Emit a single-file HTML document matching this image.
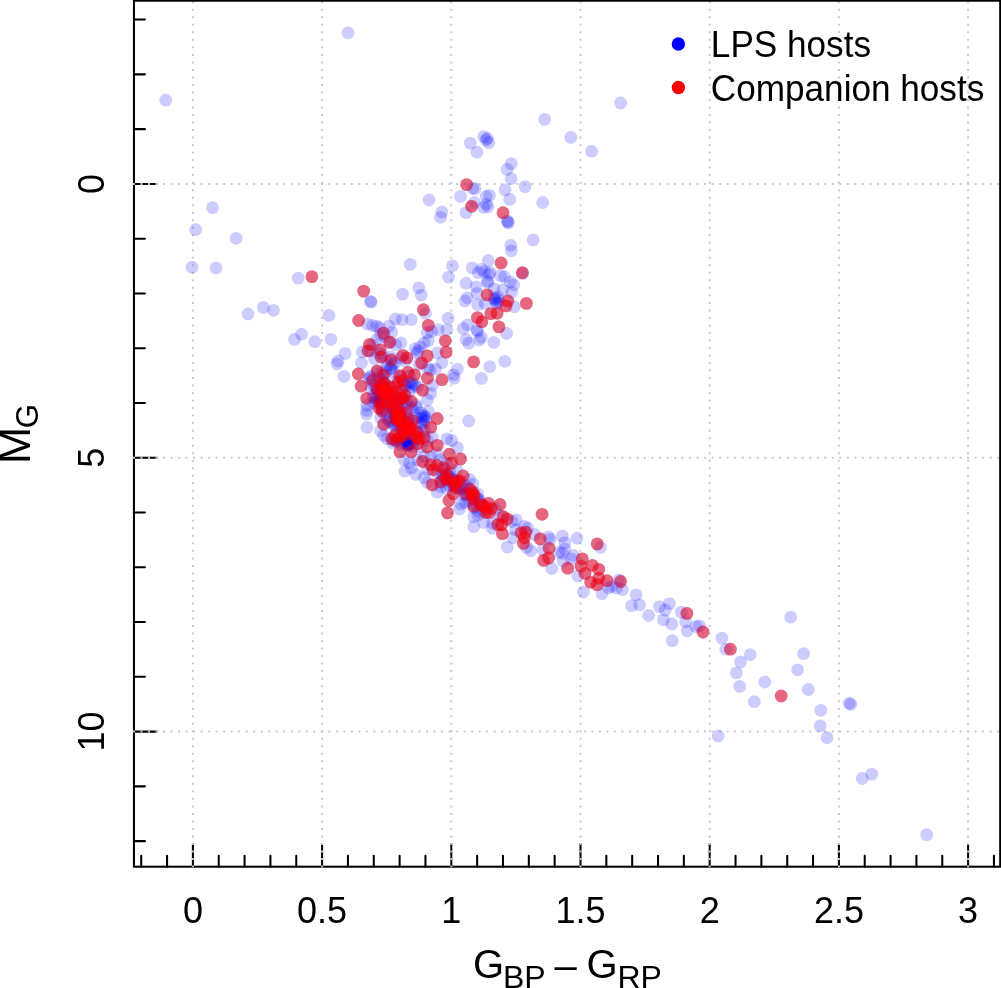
<!DOCTYPE html>
<html><head><meta charset="utf-8"><title>CMD</title>
<style>html,body{margin:0;padding:0;background:#fff;overflow:hidden}svg{display:block}</style>
</head><body>
<svg width="1001" height="988" viewBox="0 0 1001 988" font-family="'Liberation Sans', Arial, sans-serif">
<rect width="1001" height="988" fill="#fff"/>
<g stroke="#cacaca" stroke-width="2" fill="none">
<path stroke-dasharray="2 5.515" d="M192.90 867.5V0.7M322.10 867.5V0.7M451.30 867.5V0.7M580.50 867.5V0.7M709.70 867.5V0.7M838.90 867.5V0.7M968.10 867.5V0.7"/>
<path stroke-dasharray="2 5.515" d="M132.95 183.90H1000.2M132.95 457.75H1000.2M132.95 731.60H1000.2"/>
</g>
<g fill="#0000ff" fill-opacity="0.2">
<circle cx="790.7" cy="617.2" r="6.4"/>
<circle cx="721.9" cy="638.1" r="6.4"/>
<circle cx="725.9" cy="649.2" r="6.4"/>
<circle cx="750.2" cy="654.7" r="6.4"/>
<circle cx="740.5" cy="661.9" r="6.4"/>
<circle cx="736.4" cy="672.9" r="6.4"/>
<circle cx="739.7" cy="686.4" r="6.4"/>
<circle cx="764.8" cy="682.0" r="6.4"/>
<circle cx="754.3" cy="701.6" r="6.4"/>
<circle cx="803.6" cy="653.6" r="6.4"/>
<circle cx="797.6" cy="669.8" r="6.4"/>
<circle cx="808.3" cy="689.5" r="6.4"/>
<circle cx="820.9" cy="710.3" r="6.4"/>
<circle cx="820.2" cy="725.9" r="6.4"/>
<circle cx="827.1" cy="737.7" r="6.4"/>
<circle cx="718.2" cy="736.0" r="6.4"/>
<circle cx="849.2" cy="703.2" r="6.4"/>
<circle cx="850.8" cy="704.3" r="6.4"/>
<circle cx="862.3" cy="778.5" r="6.4"/>
<circle cx="871.7" cy="774.1" r="6.4"/>
<circle cx="165.8" cy="100.2" r="6.4"/>
<circle cx="348.0" cy="32.8" r="6.4"/>
<circle cx="470.2" cy="143.1" r="6.4"/>
<circle cx="476.9" cy="152.2" r="6.4"/>
<circle cx="483.8" cy="136.6" r="6.4"/>
<circle cx="487.2" cy="138.3" r="6.4"/>
<circle cx="486.2" cy="140.1" r="6.4"/>
<circle cx="488.9" cy="142.7" r="6.4"/>
<circle cx="511.3" cy="163.6" r="6.4"/>
<circle cx="507.1" cy="169.4" r="6.4"/>
<circle cx="511.1" cy="178.7" r="6.4"/>
<circle cx="505.1" cy="189.9" r="6.4"/>
<circle cx="525.1" cy="186.6" r="6.4"/>
<circle cx="472.7" cy="188.3" r="6.4"/>
<circle cx="475.1" cy="188.7" r="6.4"/>
<circle cx="460.5" cy="196.4" r="6.4"/>
<circle cx="429.1" cy="200.0" r="6.4"/>
<circle cx="486.2" cy="196.4" r="6.4"/>
<circle cx="489.5" cy="195.3" r="6.4"/>
<circle cx="509.7" cy="199.4" r="6.4"/>
<circle cx="544.7" cy="119.4" r="6.4"/>
<circle cx="570.8" cy="137.4" r="6.4"/>
<circle cx="591.5" cy="151.2" r="6.4"/>
<circle cx="620.6" cy="103.0" r="6.4"/>
<circle cx="212.5" cy="207.7" r="6.4"/>
<circle cx="195.7" cy="229.6" r="6.4"/>
<circle cx="236.2" cy="238.3" r="6.4"/>
<circle cx="192.1" cy="267.2" r="6.4"/>
<circle cx="216.0" cy="268.0" r="6.4"/>
<circle cx="298.2" cy="278.1" r="6.4"/>
<circle cx="248.0" cy="314.0" r="6.4"/>
<circle cx="263.4" cy="307.5" r="6.4"/>
<circle cx="273.5" cy="310.3" r="6.4"/>
<circle cx="328.9" cy="315.4" r="6.4"/>
<circle cx="301.6" cy="334.2" r="6.4"/>
<circle cx="294.5" cy="339.5" r="6.4"/>
<circle cx="314.8" cy="341.7" r="6.4"/>
<circle cx="331.0" cy="339.3" r="6.4"/>
<circle cx="441.9" cy="212.0" r="6.4"/>
<circle cx="440.5" cy="217.3" r="6.4"/>
<circle cx="466.0" cy="212.7" r="6.4"/>
<circle cx="474.4" cy="202.5" r="6.4"/>
<circle cx="486.4" cy="204.2" r="6.4"/>
<circle cx="483.6" cy="207.3" r="6.4"/>
<circle cx="487.9" cy="206.7" r="6.4"/>
<circle cx="542.7" cy="202.5" r="6.4"/>
<circle cx="507.3" cy="220.9" r="6.4"/>
<circle cx="508.4" cy="222.9" r="6.4"/>
<circle cx="507.7" cy="221.9" r="6.4"/>
<circle cx="533.2" cy="239.9" r="6.4"/>
<circle cx="510.8" cy="245.3" r="6.4"/>
<circle cx="410.2" cy="264.4" r="6.4"/>
<circle cx="452.4" cy="265.8" r="6.4"/>
<circle cx="448.6" cy="277.1" r="6.4"/>
<circle cx="418.7" cy="287.8" r="6.4"/>
<circle cx="421.3" cy="295.1" r="6.4"/>
<circle cx="402.6" cy="294.1" r="6.4"/>
<circle cx="448.2" cy="318.2" r="6.4"/>
<circle cx="411.3" cy="319.7" r="6.4"/>
<circle cx="402.1" cy="319.7" r="6.4"/>
<circle cx="425.5" cy="313.3" r="6.4"/>
<circle cx="438.3" cy="329.6" r="6.4"/>
<circle cx="446.8" cy="329.6" r="6.4"/>
<circle cx="488.3" cy="260.5" r="6.4"/>
<circle cx="472.1" cy="267.8" r="6.4"/>
<circle cx="478.2" cy="272.7" r="6.4"/>
<circle cx="481.5" cy="269.4" r="6.4"/>
<circle cx="484.3" cy="271.5" r="6.4"/>
<circle cx="490.0" cy="272.3" r="6.4"/>
<circle cx="489.1" cy="274.3" r="6.4"/>
<circle cx="487.4" cy="281.2" r="6.4"/>
<circle cx="487.9" cy="282.4" r="6.4"/>
<circle cx="466.1" cy="283.2" r="6.4"/>
<circle cx="476.2" cy="286.8" r="6.4"/>
<circle cx="477.0" cy="293.3" r="6.4"/>
<circle cx="467.3" cy="297.8" r="6.4"/>
<circle cx="464.9" cy="301.0" r="6.4"/>
<circle cx="477.8" cy="304.7" r="6.4"/>
<circle cx="500.5" cy="275.9" r="6.4"/>
<circle cx="504.5" cy="276.7" r="6.4"/>
<circle cx="510.2" cy="282.0" r="6.4"/>
<circle cx="513.8" cy="284.8" r="6.4"/>
<circle cx="511.8" cy="292.1" r="6.4"/>
<circle cx="502.9" cy="289.7" r="6.4"/>
<circle cx="494.0" cy="288.9" r="6.4"/>
<circle cx="498.1" cy="297.0" r="6.4"/>
<circle cx="494.8" cy="300.2" r="6.4"/>
<circle cx="497.2" cy="303.4" r="6.4"/>
<circle cx="495.6" cy="298.6" r="6.4"/>
<circle cx="498.9" cy="301.0" r="6.4"/>
<circle cx="496.4" cy="302.6" r="6.4"/>
<circle cx="494.0" cy="297.8" r="6.4"/>
<circle cx="485.1" cy="303.4" r="6.4"/>
<circle cx="514.3" cy="306.7" r="6.4"/>
<circle cx="511.4" cy="250.8" r="6.4"/>
<circle cx="467.7" cy="324.9" r="6.4"/>
<circle cx="463.2" cy="328.5" r="6.4"/>
<circle cx="477.0" cy="329.8" r="6.4"/>
<circle cx="522.8" cy="273.5" r="6.4"/>
<circle cx="370.5" cy="301.3" r="6.4"/>
<circle cx="371.1" cy="302.1" r="6.4"/>
<circle cx="395.3" cy="319.0" r="6.4"/>
<circle cx="367.4" cy="324.0" r="6.4"/>
<circle cx="372.5" cy="325.5" r="6.4"/>
<circle cx="376.6" cy="326.1" r="6.4"/>
<circle cx="379.6" cy="327.6" r="6.4"/>
<circle cx="389.2" cy="326.1" r="6.4"/>
<circle cx="391.7" cy="332.1" r="6.4"/>
<circle cx="345.2" cy="353.4" r="6.4"/>
<circle cx="338.1" cy="361.0" r="6.4"/>
<circle cx="337.1" cy="364.0" r="6.4"/>
<circle cx="361.4" cy="363.0" r="6.4"/>
<circle cx="362.4" cy="351.9" r="6.4"/>
<circle cx="376.6" cy="339.7" r="6.4"/>
<circle cx="374.5" cy="358.9" r="6.4"/>
<circle cx="400.9" cy="342.8" r="6.4"/>
<circle cx="427.2" cy="332.6" r="6.4"/>
<circle cx="415.0" cy="348.8" r="6.4"/>
<circle cx="418.1" cy="350.9" r="6.4"/>
<circle cx="417.0" cy="352.9" r="6.4"/>
<circle cx="420.1" cy="346.8" r="6.4"/>
<circle cx="424.1" cy="342.8" r="6.4"/>
<circle cx="428.2" cy="340.7" r="6.4"/>
<circle cx="386.7" cy="366.0" r="6.4"/>
<circle cx="390.7" cy="368.1" r="6.4"/>
<circle cx="392.8" cy="365.0" r="6.4"/>
<circle cx="395.8" cy="344.8" r="6.4"/>
<circle cx="380.6" cy="334.7" r="6.4"/>
<circle cx="384.7" cy="336.7" r="6.4"/>
<circle cx="388.7" cy="342.8" r="6.4"/>
<circle cx="372.5" cy="344.8" r="6.4"/>
<circle cx="370.5" cy="350.9" r="6.4"/>
<circle cx="378.6" cy="352.9" r="6.4"/>
<circle cx="382.6" cy="354.9" r="6.4"/>
<circle cx="390.7" cy="356.9" r="6.4"/>
<circle cx="394.8" cy="363.0" r="6.4"/>
<circle cx="386.7" cy="361.0" r="6.4"/>
<circle cx="400.9" cy="357.9" r="6.4"/>
<circle cx="404.9" cy="361.0" r="6.4"/>
<circle cx="419.1" cy="364.0" r="6.4"/>
<circle cx="344.0" cy="376.4" r="6.4"/>
<circle cx="366.7" cy="410.4" r="6.4"/>
<circle cx="367.0" cy="427.4" r="6.4"/>
<circle cx="383.7" cy="435.5" r="6.4"/>
<circle cx="387.0" cy="438.8" r="6.4"/>
<circle cx="404.8" cy="471.2" r="6.4"/>
<circle cx="411.3" cy="467.9" r="6.4"/>
<circle cx="416.1" cy="474.4" r="6.4"/>
<circle cx="424.2" cy="477.7" r="6.4"/>
<circle cx="427.4" cy="482.5" r="6.4"/>
<circle cx="437.2" cy="492.2" r="6.4"/>
<circle cx="404.0" cy="459.8" r="6.4"/>
<circle cx="409.6" cy="463.1" r="6.4"/>
<circle cx="430.7" cy="393.4" r="6.4"/>
<circle cx="427.4" cy="399.9" r="6.4"/>
<circle cx="428.3" cy="411.3" r="6.4"/>
<circle cx="424.2" cy="416.1" r="6.4"/>
<circle cx="425.8" cy="421.0" r="6.4"/>
<circle cx="417.7" cy="387.0" r="6.4"/>
<circle cx="411.3" cy="382.1" r="6.4"/>
<circle cx="468.7" cy="421.0" r="6.4"/>
<circle cx="446.9" cy="438.8" r="6.4"/>
<circle cx="451.7" cy="440.4" r="6.4"/>
<circle cx="457.4" cy="447.7" r="6.4"/>
<circle cx="454.2" cy="378.1" r="6.4"/>
<circle cx="457.4" cy="369.1" r="6.4"/>
<circle cx="453.4" cy="374.8" r="6.4"/>
<circle cx="481.4" cy="378.4" r="6.4"/>
<circle cx="489.8" cy="366.7" r="6.4"/>
<circle cx="468.7" cy="343.2" r="6.4"/>
<circle cx="479.3" cy="340.0" r="6.4"/>
<circle cx="493.8" cy="342.4" r="6.4"/>
<circle cx="432.3" cy="385.3" r="6.4"/>
<circle cx="435.5" cy="369.1" r="6.4"/>
<circle cx="442.0" cy="362.7" r="6.4"/>
<circle cx="437.2" cy="353.0" r="6.4"/>
<circle cx="472.8" cy="484.1" r="6.4"/>
<circle cx="469.6" cy="479.3" r="6.4"/>
<circle cx="477.7" cy="493.8" r="6.4"/>
<circle cx="463.1" cy="485.7" r="6.4"/>
<circle cx="408.0" cy="444.5" r="6.4"/>
<circle cx="407.2" cy="445.3" r="6.4"/>
<circle cx="408.8" cy="443.6" r="6.4"/>
<circle cx="406.4" cy="443.6" r="6.4"/>
<circle cx="408.3" cy="445.6" r="6.4"/>
<circle cx="407.4" cy="444.0" r="6.4"/>
<circle cx="409.3" cy="444.9" r="6.4"/>
<circle cx="377.2" cy="372.4" r="6.4"/>
<circle cx="382.1" cy="378.9" r="6.4"/>
<circle cx="374.0" cy="385.3" r="6.4"/>
<circle cx="385.3" cy="388.6" r="6.4"/>
<circle cx="378.9" cy="395.1" r="6.4"/>
<circle cx="388.6" cy="398.3" r="6.4"/>
<circle cx="395.1" cy="382.1" r="6.4"/>
<circle cx="401.5" cy="377.2" r="6.4"/>
<circle cx="409.6" cy="375.6" r="6.4"/>
<circle cx="404.8" cy="385.3" r="6.4"/>
<circle cx="398.3" cy="391.8" r="6.4"/>
<circle cx="393.4" cy="401.5" r="6.4"/>
<circle cx="380.5" cy="404.8" r="6.4"/>
<circle cx="385.3" cy="411.3" r="6.4"/>
<circle cx="391.8" cy="412.9" r="6.4"/>
<circle cx="398.3" cy="408.0" r="6.4"/>
<circle cx="404.8" cy="404.8" r="6.4"/>
<circle cx="411.3" cy="408.0" r="6.4"/>
<circle cx="388.6" cy="421.0" r="6.4"/>
<circle cx="395.1" cy="424.2" r="6.4"/>
<circle cx="401.5" cy="417.7" r="6.4"/>
<circle cx="408.0" cy="419.4" r="6.4"/>
<circle cx="414.5" cy="424.2" r="6.4"/>
<circle cx="417.7" cy="417.7" r="6.4"/>
<circle cx="421.0" cy="412.9" r="6.4"/>
<circle cx="396.7" cy="430.7" r="6.4"/>
<circle cx="404.8" cy="433.9" r="6.4"/>
<circle cx="411.3" cy="437.2" r="6.4"/>
<circle cx="417.7" cy="432.3" r="6.4"/>
<circle cx="424.2" cy="430.7" r="6.4"/>
<circle cx="393.4" cy="440.4" r="6.4"/>
<circle cx="401.5" cy="445.3" r="6.4"/>
<circle cx="412.9" cy="446.9" r="6.4"/>
<circle cx="421.0" cy="446.9" r="6.4"/>
<circle cx="427.4" cy="440.4" r="6.4"/>
<circle cx="432.3" cy="437.2" r="6.4"/>
<circle cx="437.2" cy="453.4" r="6.4"/>
<circle cx="430.7" cy="456.6" r="6.4"/>
<circle cx="424.2" cy="456.6" r="6.4"/>
<circle cx="417.7" cy="459.8" r="6.4"/>
<circle cx="440.4" cy="459.8" r="6.4"/>
<circle cx="446.9" cy="463.1" r="6.4"/>
<circle cx="427.4" cy="469.6" r="6.4"/>
<circle cx="437.2" cy="472.8" r="6.4"/>
<circle cx="443.6" cy="476.0" r="6.4"/>
<circle cx="450.1" cy="472.8" r="6.4"/>
<circle cx="456.6" cy="469.6" r="6.4"/>
<circle cx="453.4" cy="485.7" r="6.4"/>
<circle cx="459.8" cy="489.0" r="6.4"/>
<circle cx="446.9" cy="489.0" r="6.4"/>
<circle cx="466.3" cy="485.7" r="6.4"/>
<circle cx="440.4" cy="482.5" r="6.4"/>
<circle cx="380.5" cy="417.7" r="6.4"/>
<circle cx="375.6" cy="401.5" r="6.4"/>
<circle cx="370.8" cy="388.6" r="6.4"/>
<circle cx="369.1" cy="378.9" r="6.4"/>
<circle cx="421.0" cy="424.2" r="6.4"/>
<circle cx="416.1" cy="404.8" r="6.4"/>
<circle cx="380.5" cy="430.7" r="6.4"/>
<circle cx="516.2" cy="519.9" r="6.4"/>
<circle cx="512.1" cy="521.5" r="6.4"/>
<circle cx="515.4" cy="529.6" r="6.4"/>
<circle cx="527.5" cy="528.0" r="6.4"/>
<circle cx="524.3" cy="526.4" r="6.4"/>
<circle cx="507.3" cy="547.1" r="6.4"/>
<circle cx="513.0" cy="537.7" r="6.4"/>
<circle cx="530.8" cy="550.7" r="6.4"/>
<circle cx="526.7" cy="547.4" r="6.4"/>
<circle cx="534.8" cy="534.5" r="6.4"/>
<circle cx="548.6" cy="536.9" r="6.4"/>
<circle cx="550.2" cy="539.4" r="6.4"/>
<circle cx="562.3" cy="536.1" r="6.4"/>
<circle cx="564.8" cy="542.6" r="6.4"/>
<circle cx="576.9" cy="538.2" r="6.4"/>
<circle cx="542.9" cy="549.9" r="6.4"/>
<circle cx="559.1" cy="552.3" r="6.4"/>
<circle cx="562.3" cy="553.1" r="6.4"/>
<circle cx="564.8" cy="549.1" r="6.4"/>
<circle cx="573.7" cy="555.5" r="6.4"/>
<circle cx="571.3" cy="558.8" r="6.4"/>
<circle cx="551.8" cy="568.5" r="6.4"/>
<circle cx="563.2" cy="561.2" r="6.4"/>
<circle cx="577.7" cy="575.8" r="6.4"/>
<circle cx="583.4" cy="592.0" r="6.4"/>
<circle cx="600.4" cy="547.4" r="6.4"/>
<circle cx="602.0" cy="593.6" r="6.4"/>
<circle cx="608.5" cy="587.9" r="6.4"/>
<circle cx="611.7" cy="586.3" r="6.4"/>
<circle cx="616.6" cy="587.9" r="6.4"/>
<circle cx="622.3" cy="589.6" r="6.4"/>
<circle cx="619.0" cy="579.8" r="6.4"/>
<circle cx="636.0" cy="594.9" r="6.4"/>
<circle cx="631.5" cy="605.7" r="6.4"/>
<circle cx="639.6" cy="604.9" r="6.4"/>
<circle cx="648.7" cy="615.5" r="6.4"/>
<circle cx="659.5" cy="606.6" r="6.4"/>
<circle cx="669.4" cy="603.6" r="6.4"/>
<circle cx="665.3" cy="610.0" r="6.4"/>
<circle cx="663.4" cy="619.8" r="6.4"/>
<circle cx="671.8" cy="623.9" r="6.4"/>
<circle cx="672.3" cy="640.7" r="6.4"/>
<circle cx="681.2" cy="612.1" r="6.4"/>
<circle cx="685.6" cy="621.8" r="6.4"/>
<circle cx="687.2" cy="631.0" r="6.4"/>
<circle cx="696.1" cy="626.6" r="6.4"/>
<circle cx="699.4" cy="625.8" r="6.4"/>
<circle cx="926.7" cy="834.6" r="6.4"/>
<circle cx="506.6" cy="333.4" r="6.4"/>
<circle cx="504.8" cy="361.3" r="6.4"/>
<circle cx="477.7" cy="331.4" r="6.4"/>
<circle cx="481.2" cy="337.4" r="6.4"/>
<circle cx="466.1" cy="339.5" r="6.4"/>
<circle cx="431.6" cy="331.4" r="6.4"/>
<circle cx="459.5" cy="509.0" r="6.4"/>
<circle cx="473.7" cy="526.7" r="6.4"/>
<circle cx="483.6" cy="522.4" r="6.4"/>
<circle cx="473.7" cy="516.8" r="6.4"/>
<circle cx="477.9" cy="515.3" r="6.4"/>
<circle cx="492.1" cy="528.1" r="6.4"/>
<circle cx="465.2" cy="502.6" r="6.4"/>
<circle cx="479.4" cy="499.8" r="6.4"/>
<circle cx="460.9" cy="504.0" r="6.4"/>
<circle cx="412.4" cy="383.6" r="6.4"/>
<circle cx="411.6" cy="386.9" r="6.4"/>
<circle cx="414.9" cy="385.2" r="6.4"/>
<circle cx="422.1" cy="415.2" r="6.4"/>
<circle cx="423.8" cy="418.4" r="6.4"/>
<circle cx="425.4" cy="416.8" r="6.4"/>
<circle cx="423.0" cy="421.7" r="6.4"/>
<circle cx="421.3" cy="418.4" r="6.4"/>
<circle cx="430.2" cy="369.9" r="6.4"/>
<circle cx="427.8" cy="368.2" r="6.4"/>
<circle cx="413.2" cy="410.3" r="6.4"/>
<circle cx="416.5" cy="407.1" r="6.4"/>
<circle cx="390.7" cy="369.0" r="6.4"/>
<circle cx="393.2" cy="371.5" r="6.4"/>
<circle cx="408.5" cy="382.8" r="6.4"/>
<circle cx="406.1" cy="386.1" r="6.4"/>
<circle cx="376.2" cy="399.0" r="6.4"/>
<circle cx="373.7" cy="403.1" r="6.4"/>
<circle cx="378.6" cy="400.6" r="6.4"/>
<circle cx="386.7" cy="418.4" r="6.4"/>
<circle cx="389.1" cy="420.9" r="6.4"/>
<circle cx="408.5" cy="442.7" r="6.4"/>
<circle cx="406.1" cy="440.3" r="6.4"/>
<circle cx="403.9" cy="437.7" r="6.4"/>
<circle cx="370.0" cy="377.7" r="6.4"/>
<circle cx="406.9" cy="421.1" r="6.4"/>
<circle cx="401.6" cy="410.0" r="6.4"/>
<circle cx="405.4" cy="401.2" r="6.4"/>
<circle cx="396.3" cy="441.5" r="6.4"/>
<circle cx="393.5" cy="403.8" r="6.4"/>
<circle cx="385.9" cy="372.3" r="6.4"/>
<circle cx="380.8" cy="398.8" r="6.4"/>
<circle cx="396.6" cy="411.5" r="6.4"/>
<circle cx="383.9" cy="401.9" r="6.4"/>
<circle cx="409.9" cy="436.9" r="6.4"/>
<circle cx="399.2" cy="427.0" r="6.4"/>
<circle cx="402.3" cy="426.0" r="6.4"/>
<circle cx="366.8" cy="405.5" r="6.4"/>
<circle cx="379.0" cy="377.8" r="6.4"/>
<circle cx="402.8" cy="398.3" r="6.4"/>
<circle cx="424.0" cy="429.8" r="6.4"/>
<circle cx="373.0" cy="396.7" r="6.4"/>
<circle cx="409.4" cy="391.5" r="6.4"/>
<circle cx="407.9" cy="418.4" r="6.4"/>
<circle cx="389.5" cy="391.4" r="6.4"/>
<circle cx="411.5" cy="443.4" r="6.4"/>
<circle cx="374.4" cy="397.9" r="6.4"/>
<circle cx="406.9" cy="400.2" r="6.4"/>
<circle cx="400.8" cy="413.9" r="6.4"/>
<circle cx="382.3" cy="409.9" r="6.4"/>
<circle cx="370.7" cy="376.1" r="6.4"/>
<circle cx="402.7" cy="442.7" r="6.4"/>
<circle cx="381.6" cy="372.7" r="6.4"/>
<circle cx="382.2" cy="388.6" r="6.4"/>
<circle cx="389.8" cy="407.1" r="6.4"/>
<circle cx="377.0" cy="388.1" r="6.4"/>
<circle cx="393.7" cy="425.6" r="6.4"/>
<circle cx="384.4" cy="382.3" r="6.4"/>
<circle cx="392.6" cy="442.9" r="6.4"/>
<circle cx="383.2" cy="382.6" r="6.4"/>
<circle cx="381.5" cy="392.8" r="6.4"/>
<circle cx="366.6" cy="414.1" r="6.4"/>
<circle cx="376.0" cy="388.9" r="6.4"/>
<circle cx="397.2" cy="411.8" r="6.4"/>
<circle cx="380.3" cy="400.8" r="6.4"/>
<circle cx="399.5" cy="414.0" r="6.4"/>
<circle cx="391.3" cy="422.5" r="6.4"/>
<circle cx="394.5" cy="412.0" r="6.4"/>
<circle cx="382.3" cy="400.6" r="6.4"/>
<circle cx="398.1" cy="438.6" r="6.4"/>
<circle cx="395.9" cy="396.8" r="6.4"/>
<circle cx="409.8" cy="443.7" r="6.4"/>
<circle cx="381.0" cy="406.8" r="6.4"/>
<circle cx="470.6" cy="494.0" r="6.4"/>
<circle cx="448.8" cy="485.1" r="6.4"/>
<circle cx="454.6" cy="488.5" r="6.4"/>
<circle cx="477.8" cy="498.6" r="6.4"/>
<circle cx="454.6" cy="480.5" r="6.4"/>
<circle cx="492.5" cy="523.0" r="6.4"/>
<circle cx="448.6" cy="475.4" r="6.4"/>
<circle cx="465.6" cy="495.3" r="6.4"/>
<circle cx="443.4" cy="479.6" r="6.4"/>
<circle cx="440.6" cy="486.6" r="6.4"/>
<circle cx="452.8" cy="479.0" r="6.4"/>
<circle cx="461.8" cy="488.4" r="6.4"/>
<circle cx="483.0" cy="510.5" r="6.4"/>
<circle cx="495.2" cy="509.0" r="6.4"/>
<circle cx="478.3" cy="500.8" r="6.4"/>
<circle cx="443.7" cy="469.8" r="6.4"/>
<circle cx="500.7" cy="515.8" r="6.4"/>
<circle cx="463.2" cy="488.9" r="6.4"/>
<circle cx="452.0" cy="482.2" r="6.4"/>
<circle cx="468.5" cy="500.5" r="6.4"/>
<circle cx="443.2" cy="475.4" r="6.4"/>
<circle cx="473.4" cy="503.7" r="6.4"/>
<circle cx="464.3" cy="493.9" r="6.4"/>
<circle cx="474.0" cy="507.6" r="6.4"/>
<circle cx="448.9" cy="477.1" r="6.4"/>
<circle cx="478.4" cy="511.3" r="6.4"/>
<circle cx="703.0" cy="632.0" r="6.4"/>
<circle cx="730.4" cy="649.2" r="6.4"/>
<circle cx="781.2" cy="696.0" r="6.4"/>
<circle cx="466.6" cy="184.6" r="6.4"/>
<circle cx="311.9" cy="276.7" r="6.4"/>
<circle cx="471.6" cy="206.3" r="6.4"/>
<circle cx="503.0" cy="212.7" r="6.4"/>
<circle cx="423.4" cy="309.7" r="6.4"/>
<circle cx="428.3" cy="325.3" r="6.4"/>
<circle cx="501.1" cy="263.0" r="6.4"/>
<circle cx="522.3" cy="272.7" r="6.4"/>
<circle cx="487.1" cy="294.9" r="6.4"/>
<circle cx="507.8" cy="301.0" r="6.4"/>
<circle cx="506.0" cy="305.9" r="6.4"/>
<circle cx="526.4" cy="303.4" r="6.4"/>
<circle cx="490.8" cy="313.6" r="6.4"/>
<circle cx="497.1" cy="313.3" r="6.4"/>
<circle cx="477.4" cy="317.6" r="6.4"/>
<circle cx="481.9" cy="321.7" r="6.4"/>
<circle cx="498.9" cy="326.9" r="6.4"/>
<circle cx="363.7" cy="291.1" r="6.4"/>
<circle cx="358.6" cy="320.5" r="6.4"/>
<circle cx="383.4" cy="333.1" r="6.4"/>
<circle cx="389.9" cy="342.2" r="6.4"/>
<circle cx="369.5" cy="344.3" r="6.4"/>
<circle cx="368.0" cy="350.9" r="6.4"/>
<circle cx="380.1" cy="349.8" r="6.4"/>
<circle cx="381.1" cy="356.9" r="6.4"/>
<circle cx="391.2" cy="360.0" r="6.4"/>
<circle cx="402.9" cy="355.4" r="6.4"/>
<circle cx="406.9" cy="357.9" r="6.4"/>
<circle cx="421.6" cy="363.0" r="6.4"/>
<circle cx="427.2" cy="355.9" r="6.4"/>
<circle cx="446.1" cy="352.1" r="6.4"/>
<circle cx="445.3" cy="340.8" r="6.4"/>
<circle cx="473.6" cy="361.9" r="6.4"/>
<circle cx="442.0" cy="379.7" r="6.4"/>
<circle cx="427.4" cy="378.1" r="6.4"/>
<circle cx="422.6" cy="390.2" r="6.4"/>
<circle cx="358.3" cy="374.0" r="6.4"/>
<circle cx="361.1" cy="386.2" r="6.4"/>
<circle cx="366.7" cy="398.3" r="6.4"/>
<circle cx="377.2" cy="370.8" r="6.4"/>
<circle cx="383.7" cy="374.8" r="6.4"/>
<circle cx="372.4" cy="380.5" r="6.4"/>
<circle cx="380.5" cy="383.7" r="6.4"/>
<circle cx="388.6" cy="387.0" r="6.4"/>
<circle cx="377.2" cy="390.2" r="6.4"/>
<circle cx="385.3" cy="393.4" r="6.4"/>
<circle cx="399.9" cy="375.6" r="6.4"/>
<circle cx="408.0" cy="372.4" r="6.4"/>
<circle cx="414.5" cy="374.8" r="6.4"/>
<circle cx="403.2" cy="380.5" r="6.4"/>
<circle cx="395.1" cy="387.0" r="6.4"/>
<circle cx="401.5" cy="390.2" r="6.4"/>
<circle cx="404.8" cy="395.1" r="6.4"/>
<circle cx="391.8" cy="396.7" r="6.4"/>
<circle cx="398.3" cy="399.9" r="6.4"/>
<circle cx="396.7" cy="404.8" r="6.4"/>
<circle cx="388.6" cy="401.5" r="6.4"/>
<circle cx="378.9" cy="408.0" r="6.4"/>
<circle cx="382.1" cy="411.3" r="6.4"/>
<circle cx="393.4" cy="409.6" r="6.4"/>
<circle cx="399.9" cy="411.3" r="6.4"/>
<circle cx="406.4" cy="412.9" r="6.4"/>
<circle cx="411.3" cy="401.5" r="6.4"/>
<circle cx="383.7" cy="424.2" r="6.4"/>
<circle cx="396.7" cy="419.4" r="6.4"/>
<circle cx="403.2" cy="421.0" r="6.4"/>
<circle cx="408.0" cy="424.2" r="6.4"/>
<circle cx="412.9" cy="421.0" r="6.4"/>
<circle cx="401.5" cy="427.4" r="6.4"/>
<circle cx="404.8" cy="430.7" r="6.4"/>
<circle cx="409.6" cy="429.1" r="6.4"/>
<circle cx="395.1" cy="435.5" r="6.4"/>
<circle cx="399.9" cy="437.2" r="6.4"/>
<circle cx="396.7" cy="440.4" r="6.4"/>
<circle cx="414.5" cy="435.5" r="6.4"/>
<circle cx="419.4" cy="438.8" r="6.4"/>
<circle cx="424.2" cy="437.2" r="6.4"/>
<circle cx="417.7" cy="443.6" r="6.4"/>
<circle cx="437.2" cy="418.5" r="6.4"/>
<circle cx="430.7" cy="427.4" r="6.4"/>
<circle cx="437.2" cy="445.3" r="6.4"/>
<circle cx="427.4" cy="446.9" r="6.4"/>
<circle cx="399.9" cy="451.7" r="6.4"/>
<circle cx="411.3" cy="451.7" r="6.4"/>
<circle cx="449.3" cy="454.2" r="6.4"/>
<circle cx="460.6" cy="459.0" r="6.4"/>
<circle cx="422.6" cy="461.5" r="6.4"/>
<circle cx="430.7" cy="464.7" r="6.4"/>
<circle cx="437.2" cy="465.5" r="6.4"/>
<circle cx="443.6" cy="467.9" r="6.4"/>
<circle cx="433.1" cy="469.6" r="6.4"/>
<circle cx="451.7" cy="463.1" r="6.4"/>
<circle cx="432.3" cy="484.9" r="6.4"/>
<circle cx="446.9" cy="479.3" r="6.4"/>
<circle cx="453.4" cy="482.5" r="6.4"/>
<circle cx="459.8" cy="480.9" r="6.4"/>
<circle cx="463.1" cy="476.0" r="6.4"/>
<circle cx="456.6" cy="487.4" r="6.4"/>
<circle cx="469.6" cy="489.0" r="6.4"/>
<circle cx="466.3" cy="493.8" r="6.4"/>
<circle cx="453.4" cy="493.8" r="6.4"/>
<circle cx="500.0" cy="504.5" r="6.4"/>
<circle cx="503.2" cy="516.7" r="6.4"/>
<circle cx="507.3" cy="519.1" r="6.4"/>
<circle cx="501.6" cy="524.8" r="6.4"/>
<circle cx="502.4" cy="533.7" r="6.4"/>
<circle cx="542.1" cy="514.3" r="6.4"/>
<circle cx="521.1" cy="532.9" r="6.4"/>
<circle cx="525.9" cy="532.1" r="6.4"/>
<circle cx="524.3" cy="537.7" r="6.4"/>
<circle cx="523.5" cy="543.4" r="6.4"/>
<circle cx="540.2" cy="538.9" r="6.4"/>
<circle cx="549.1" cy="548.3" r="6.4"/>
<circle cx="543.7" cy="560.4" r="6.4"/>
<circle cx="548.6" cy="558.0" r="6.4"/>
<circle cx="567.7" cy="568.2" r="6.4"/>
<circle cx="582.3" cy="558.8" r="6.4"/>
<circle cx="597.2" cy="543.9" r="6.4"/>
<circle cx="581.0" cy="566.1" r="6.4"/>
<circle cx="585.0" cy="573.4" r="6.4"/>
<circle cx="592.3" cy="565.3" r="6.4"/>
<circle cx="598.8" cy="569.3" r="6.4"/>
<circle cx="590.7" cy="582.3" r="6.4"/>
<circle cx="597.2" cy="584.7" r="6.4"/>
<circle cx="598.8" cy="578.2" r="6.4"/>
<circle cx="606.9" cy="580.6" r="6.4"/>
<circle cx="620.6" cy="581.5" r="6.4"/>
<circle cx="686.9" cy="613.4" r="6.4"/>
<circle cx="448.9" cy="500.5" r="6.4"/>
<circle cx="473.7" cy="506.1" r="6.4"/>
<circle cx="488.6" cy="503.3" r="6.4"/>
<circle cx="447.5" cy="512.9" r="6.4"/>
<circle cx="491.4" cy="508.3" r="6.4"/>
<circle cx="485.7" cy="512.5" r="6.4"/>
<circle cx="398.2" cy="412.9" r="6.4"/>
<circle cx="405.7" cy="428.2" r="6.4"/>
<circle cx="398.4" cy="382.0" r="6.4"/>
<circle cx="398.2" cy="420.3" r="6.4"/>
<circle cx="398.1" cy="414.5" r="6.4"/>
<circle cx="394.9" cy="418.4" r="6.4"/>
<circle cx="380.9" cy="403.5" r="6.4"/>
<circle cx="385.7" cy="394.0" r="6.4"/>
<circle cx="400.0" cy="418.6" r="6.4"/>
<circle cx="405.8" cy="434.4" r="6.4"/>
<circle cx="416.8" cy="431.9" r="6.4"/>
<circle cx="379.5" cy="400.5" r="6.4"/>
<circle cx="392.6" cy="407.5" r="6.4"/>
<circle cx="389.5" cy="392.6" r="6.4"/>
<circle cx="384.0" cy="383.4" r="6.4"/>
<circle cx="387.3" cy="401.1" r="6.4"/>
<circle cx="401.5" cy="398.1" r="6.4"/>
<circle cx="383.3" cy="390.5" r="6.4"/>
<circle cx="402.7" cy="425.0" r="6.4"/>
<circle cx="411.1" cy="428.2" r="6.4"/>
<circle cx="379.9" cy="390.0" r="6.4"/>
<circle cx="401.5" cy="436.1" r="6.4"/>
<circle cx="402.8" cy="398.2" r="6.4"/>
<circle cx="383.1" cy="387.1" r="6.4"/>
<circle cx="391.7" cy="438.7" r="6.4"/>
<circle cx="391.9" cy="392.4" r="6.4"/>
<circle cx="417.2" cy="437.4" r="6.4"/>
<circle cx="472.6" cy="492.0" r="6.4"/>
<circle cx="472.4" cy="495.3" r="6.4"/>
<circle cx="457.5" cy="480.9" r="6.4"/>
<circle cx="489.3" cy="512.4" r="6.4"/>
<circle cx="446.6" cy="478.5" r="6.4"/>
<circle cx="440.7" cy="481.6" r="6.4"/>
<circle cx="480.4" cy="505.1" r="6.4"/>
<circle cx="446.5" cy="474.0" r="6.4"/>
<circle cx="454.8" cy="484.7" r="6.4"/>
<circle cx="474.3" cy="495.1" r="6.4"/>
<circle cx="472.9" cy="498.5" r="6.4"/>
<circle cx="482.2" cy="504.6" r="6.4"/>
<circle cx="497.8" cy="524.6" r="6.4"/>
<circle cx="485.6" cy="507.4" r="6.4"/>
</g>
<g fill="#ff0000" fill-opacity="0.5">
<circle cx="703.0" cy="632.0" r="6.4"/>
<circle cx="730.4" cy="649.2" r="6.4"/>
<circle cx="781.2" cy="696.0" r="6.4"/>
<circle cx="466.6" cy="184.6" r="6.4"/>
<circle cx="311.9" cy="276.7" r="6.4"/>
<circle cx="471.6" cy="206.3" r="6.4"/>
<circle cx="503.0" cy="212.7" r="6.4"/>
<circle cx="423.4" cy="309.7" r="6.4"/>
<circle cx="428.3" cy="325.3" r="6.4"/>
<circle cx="501.1" cy="263.0" r="6.4"/>
<circle cx="522.3" cy="272.7" r="6.4"/>
<circle cx="487.1" cy="294.9" r="6.4"/>
<circle cx="507.8" cy="301.0" r="6.4"/>
<circle cx="506.0" cy="305.9" r="6.4"/>
<circle cx="526.4" cy="303.4" r="6.4"/>
<circle cx="490.8" cy="313.6" r="6.4"/>
<circle cx="497.1" cy="313.3" r="6.4"/>
<circle cx="477.4" cy="317.6" r="6.4"/>
<circle cx="481.9" cy="321.7" r="6.4"/>
<circle cx="498.9" cy="326.9" r="6.4"/>
<circle cx="363.7" cy="291.1" r="6.4"/>
<circle cx="358.6" cy="320.5" r="6.4"/>
<circle cx="383.4" cy="333.1" r="6.4"/>
<circle cx="389.9" cy="342.2" r="6.4"/>
<circle cx="369.5" cy="344.3" r="6.4"/>
<circle cx="368.0" cy="350.9" r="6.4"/>
<circle cx="380.1" cy="349.8" r="6.4"/>
<circle cx="381.1" cy="356.9" r="6.4"/>
<circle cx="391.2" cy="360.0" r="6.4"/>
<circle cx="402.9" cy="355.4" r="6.4"/>
<circle cx="406.9" cy="357.9" r="6.4"/>
<circle cx="421.6" cy="363.0" r="6.4"/>
<circle cx="427.2" cy="355.9" r="6.4"/>
<circle cx="446.1" cy="352.1" r="6.4"/>
<circle cx="445.3" cy="340.8" r="6.4"/>
<circle cx="473.6" cy="361.9" r="6.4"/>
<circle cx="442.0" cy="379.7" r="6.4"/>
<circle cx="427.4" cy="378.1" r="6.4"/>
<circle cx="422.6" cy="390.2" r="6.4"/>
<circle cx="358.3" cy="374.0" r="6.4"/>
<circle cx="361.1" cy="386.2" r="6.4"/>
<circle cx="366.7" cy="398.3" r="6.4"/>
<circle cx="377.2" cy="370.8" r="6.4"/>
<circle cx="383.7" cy="374.8" r="6.4"/>
<circle cx="372.4" cy="380.5" r="6.4"/>
<circle cx="380.5" cy="383.7" r="6.4"/>
<circle cx="388.6" cy="387.0" r="6.4"/>
<circle cx="377.2" cy="390.2" r="6.4"/>
<circle cx="385.3" cy="393.4" r="6.4"/>
<circle cx="399.9" cy="375.6" r="6.4"/>
<circle cx="408.0" cy="372.4" r="6.4"/>
<circle cx="414.5" cy="374.8" r="6.4"/>
<circle cx="403.2" cy="380.5" r="6.4"/>
<circle cx="395.1" cy="387.0" r="6.4"/>
<circle cx="401.5" cy="390.2" r="6.4"/>
<circle cx="404.8" cy="395.1" r="6.4"/>
<circle cx="391.8" cy="396.7" r="6.4"/>
<circle cx="398.3" cy="399.9" r="6.4"/>
<circle cx="396.7" cy="404.8" r="6.4"/>
<circle cx="388.6" cy="401.5" r="6.4"/>
<circle cx="378.9" cy="408.0" r="6.4"/>
<circle cx="382.1" cy="411.3" r="6.4"/>
<circle cx="393.4" cy="409.6" r="6.4"/>
<circle cx="399.9" cy="411.3" r="6.4"/>
<circle cx="406.4" cy="412.9" r="6.4"/>
<circle cx="411.3" cy="401.5" r="6.4"/>
<circle cx="383.7" cy="424.2" r="6.4"/>
<circle cx="396.7" cy="419.4" r="6.4"/>
<circle cx="403.2" cy="421.0" r="6.4"/>
<circle cx="408.0" cy="424.2" r="6.4"/>
<circle cx="412.9" cy="421.0" r="6.4"/>
<circle cx="401.5" cy="427.4" r="6.4"/>
<circle cx="404.8" cy="430.7" r="6.4"/>
<circle cx="409.6" cy="429.1" r="6.4"/>
<circle cx="395.1" cy="435.5" r="6.4"/>
<circle cx="399.9" cy="437.2" r="6.4"/>
<circle cx="396.7" cy="440.4" r="6.4"/>
<circle cx="414.5" cy="435.5" r="6.4"/>
<circle cx="419.4" cy="438.8" r="6.4"/>
<circle cx="424.2" cy="437.2" r="6.4"/>
<circle cx="417.7" cy="443.6" r="6.4"/>
<circle cx="437.2" cy="418.5" r="6.4"/>
<circle cx="430.7" cy="427.4" r="6.4"/>
<circle cx="437.2" cy="445.3" r="6.4"/>
<circle cx="427.4" cy="446.9" r="6.4"/>
<circle cx="399.9" cy="451.7" r="6.4"/>
<circle cx="411.3" cy="451.7" r="6.4"/>
<circle cx="449.3" cy="454.2" r="6.4"/>
<circle cx="460.6" cy="459.0" r="6.4"/>
<circle cx="422.6" cy="461.5" r="6.4"/>
<circle cx="430.7" cy="464.7" r="6.4"/>
<circle cx="437.2" cy="465.5" r="6.4"/>
<circle cx="443.6" cy="467.9" r="6.4"/>
<circle cx="433.1" cy="469.6" r="6.4"/>
<circle cx="451.7" cy="463.1" r="6.4"/>
<circle cx="432.3" cy="484.9" r="6.4"/>
<circle cx="446.9" cy="479.3" r="6.4"/>
<circle cx="453.4" cy="482.5" r="6.4"/>
<circle cx="459.8" cy="480.9" r="6.4"/>
<circle cx="463.1" cy="476.0" r="6.4"/>
<circle cx="456.6" cy="487.4" r="6.4"/>
<circle cx="469.6" cy="489.0" r="6.4"/>
<circle cx="466.3" cy="493.8" r="6.4"/>
<circle cx="453.4" cy="493.8" r="6.4"/>
<circle cx="500.0" cy="504.5" r="6.4"/>
<circle cx="503.2" cy="516.7" r="6.4"/>
<circle cx="507.3" cy="519.1" r="6.4"/>
<circle cx="501.6" cy="524.8" r="6.4"/>
<circle cx="502.4" cy="533.7" r="6.4"/>
<circle cx="542.1" cy="514.3" r="6.4"/>
<circle cx="521.1" cy="532.9" r="6.4"/>
<circle cx="525.9" cy="532.1" r="6.4"/>
<circle cx="524.3" cy="537.7" r="6.4"/>
<circle cx="523.5" cy="543.4" r="6.4"/>
<circle cx="540.2" cy="538.9" r="6.4"/>
<circle cx="549.1" cy="548.3" r="6.4"/>
<circle cx="543.7" cy="560.4" r="6.4"/>
<circle cx="548.6" cy="558.0" r="6.4"/>
<circle cx="567.7" cy="568.2" r="6.4"/>
<circle cx="582.3" cy="558.8" r="6.4"/>
<circle cx="597.2" cy="543.9" r="6.4"/>
<circle cx="581.0" cy="566.1" r="6.4"/>
<circle cx="585.0" cy="573.4" r="6.4"/>
<circle cx="592.3" cy="565.3" r="6.4"/>
<circle cx="598.8" cy="569.3" r="6.4"/>
<circle cx="590.7" cy="582.3" r="6.4"/>
<circle cx="597.2" cy="584.7" r="6.4"/>
<circle cx="598.8" cy="578.2" r="6.4"/>
<circle cx="606.9" cy="580.6" r="6.4"/>
<circle cx="620.6" cy="581.5" r="6.4"/>
<circle cx="686.9" cy="613.4" r="6.4"/>
<circle cx="448.9" cy="500.5" r="6.4"/>
<circle cx="473.7" cy="506.1" r="6.4"/>
<circle cx="488.6" cy="503.3" r="6.4"/>
<circle cx="447.5" cy="512.9" r="6.4"/>
<circle cx="491.4" cy="508.3" r="6.4"/>
<circle cx="485.7" cy="512.5" r="6.4"/>
<circle cx="398.2" cy="412.9" r="6.4"/>
<circle cx="405.7" cy="428.2" r="6.4"/>
<circle cx="398.4" cy="382.0" r="6.4"/>
<circle cx="398.2" cy="420.3" r="6.4"/>
<circle cx="398.1" cy="414.5" r="6.4"/>
<circle cx="394.9" cy="418.4" r="6.4"/>
<circle cx="380.9" cy="403.5" r="6.4"/>
<circle cx="385.7" cy="394.0" r="6.4"/>
<circle cx="400.0" cy="418.6" r="6.4"/>
<circle cx="405.8" cy="434.4" r="6.4"/>
<circle cx="416.8" cy="431.9" r="6.4"/>
<circle cx="379.5" cy="400.5" r="6.4"/>
<circle cx="392.6" cy="407.5" r="6.4"/>
<circle cx="389.5" cy="392.6" r="6.4"/>
<circle cx="384.0" cy="383.4" r="6.4"/>
<circle cx="387.3" cy="401.1" r="6.4"/>
<circle cx="401.5" cy="398.1" r="6.4"/>
<circle cx="383.3" cy="390.5" r="6.4"/>
<circle cx="402.7" cy="425.0" r="6.4"/>
<circle cx="411.1" cy="428.2" r="6.4"/>
<circle cx="379.9" cy="390.0" r="6.4"/>
<circle cx="401.5" cy="436.1" r="6.4"/>
<circle cx="402.8" cy="398.2" r="6.4"/>
<circle cx="383.1" cy="387.1" r="6.4"/>
<circle cx="391.7" cy="438.7" r="6.4"/>
<circle cx="391.9" cy="392.4" r="6.4"/>
<circle cx="417.2" cy="437.4" r="6.4"/>
<circle cx="472.6" cy="492.0" r="6.4"/>
<circle cx="472.4" cy="495.3" r="6.4"/>
<circle cx="457.5" cy="480.9" r="6.4"/>
<circle cx="489.3" cy="512.4" r="6.4"/>
<circle cx="446.6" cy="478.5" r="6.4"/>
<circle cx="440.7" cy="481.6" r="6.4"/>
<circle cx="480.4" cy="505.1" r="6.4"/>
<circle cx="446.5" cy="474.0" r="6.4"/>
<circle cx="454.8" cy="484.7" r="6.4"/>
<circle cx="474.3" cy="495.1" r="6.4"/>
<circle cx="472.9" cy="498.5" r="6.4"/>
<circle cx="482.2" cy="504.6" r="6.4"/>
<circle cx="497.8" cy="524.6" r="6.4"/>
<circle cx="485.6" cy="507.4" r="6.4"/>
</g>
<g stroke="#000" stroke-width="2.05" stroke-linecap="round" fill="none">
<rect x="133.95" y="0.7" width="866.25" height="866.0"/>
<path d="M141.22 866.7V855.70M167.06 866.7V855.70M192.90 866.7V844.10M218.74 866.7V855.70M244.58 866.7V855.70M270.42 866.7V855.70M296.26 866.7V855.70M322.10 866.7V844.10M347.94 866.7V855.70M373.78 866.7V855.70M399.62 866.7V855.70M425.46 866.7V855.70M451.30 866.7V844.10M477.14 866.7V855.70M502.98 866.7V855.70M528.82 866.7V855.70M554.66 866.7V855.70M580.50 866.7V844.10M606.34 866.7V855.70M632.18 866.7V855.70M658.02 866.7V855.70M683.86 866.7V855.70M709.70 866.7V844.10M735.54 866.7V855.70M761.38 866.7V855.70M787.22 866.7V855.70M813.06 866.7V855.70M838.90 866.7V844.10M864.74 866.7V855.70M890.58 866.7V855.70M916.42 866.7V855.70M942.26 866.7V855.70M968.10 866.7V844.10M993.94 866.7V855.70M133.95 19.59H144.95M133.95 74.36H144.95M133.95 129.13H144.95M133.95 183.90H156.55M133.95 238.67H144.95M133.95 293.44H144.95M133.95 348.21H144.95M133.95 402.98H144.95M133.95 457.75H156.55M133.95 512.52H144.95M133.95 567.29H144.95M133.95 622.06H144.95M133.95 676.83H144.95M133.95 731.60H156.55M133.95 786.37H144.95M133.95 841.14H144.95"/>
</g>
<g stroke="#cacaca" stroke-width="2" fill="none">
<path stroke-dasharray="2 5.515" d="M192.90 867.5V836.7M322.10 867.5V836.7M451.30 867.5V836.7M580.50 867.5V836.7M709.70 867.5V836.7M838.90 867.5V836.7M968.10 867.5V836.7"/>
<path stroke-dasharray="2 5.515" d="M132.95 183.90H163.95M132.95 457.75H163.95M132.95 731.60H163.95"/>
</g>
<g font-size="36" fill="#000" text-anchor="middle">
<text x="192.9" y="923">0</text>
<text x="322.1" y="923">0.5</text>
<text x="451.3" y="923">1</text>
<text x="580.5" y="923">1.5</text>
<text x="709.7" y="923">2</text>
<text x="838.9" y="923">2.5</text>
<text x="968.1" y="923">3</text>
<text transform="translate(103.8 183.9) rotate(-90)">0</text>
<text transform="translate(103.8 457.8) rotate(-90)">5</text>
<text transform="translate(103.8 731.6) rotate(-90)">10</text>
</g>
<g fill="#000">
<text transform="translate(30.3 464.25) rotate(-90)" font-size="45">M</text>
<text transform="translate(38.4 428.2) rotate(-90)" font-size="31.3">G</text>
<text x="473.1" y="978" font-size="40">G</text>
<text x="502.9" y="988.1" font-size="32">BP</text>
<text x="554.5" y="979" font-size="40">–</text>
<text x="586.6" y="978" font-size="40">G</text>
<text x="617.4" y="988.1" font-size="32">RP</text>
</g>
<circle cx="678.4" cy="44" r="6.7" fill="#0000ff"/>
<circle cx="678.4" cy="87.5" r="6.7" fill="#ff0000"/>
<g font-size="35.15" fill="#000"><text transform="translate(710.85 56.9) scale(1 1.06)">LPS hosts</text><text transform="translate(710.85 100.7) scale(1 1.06)">Companion hosts</text></g>
</svg>
</body></html>
